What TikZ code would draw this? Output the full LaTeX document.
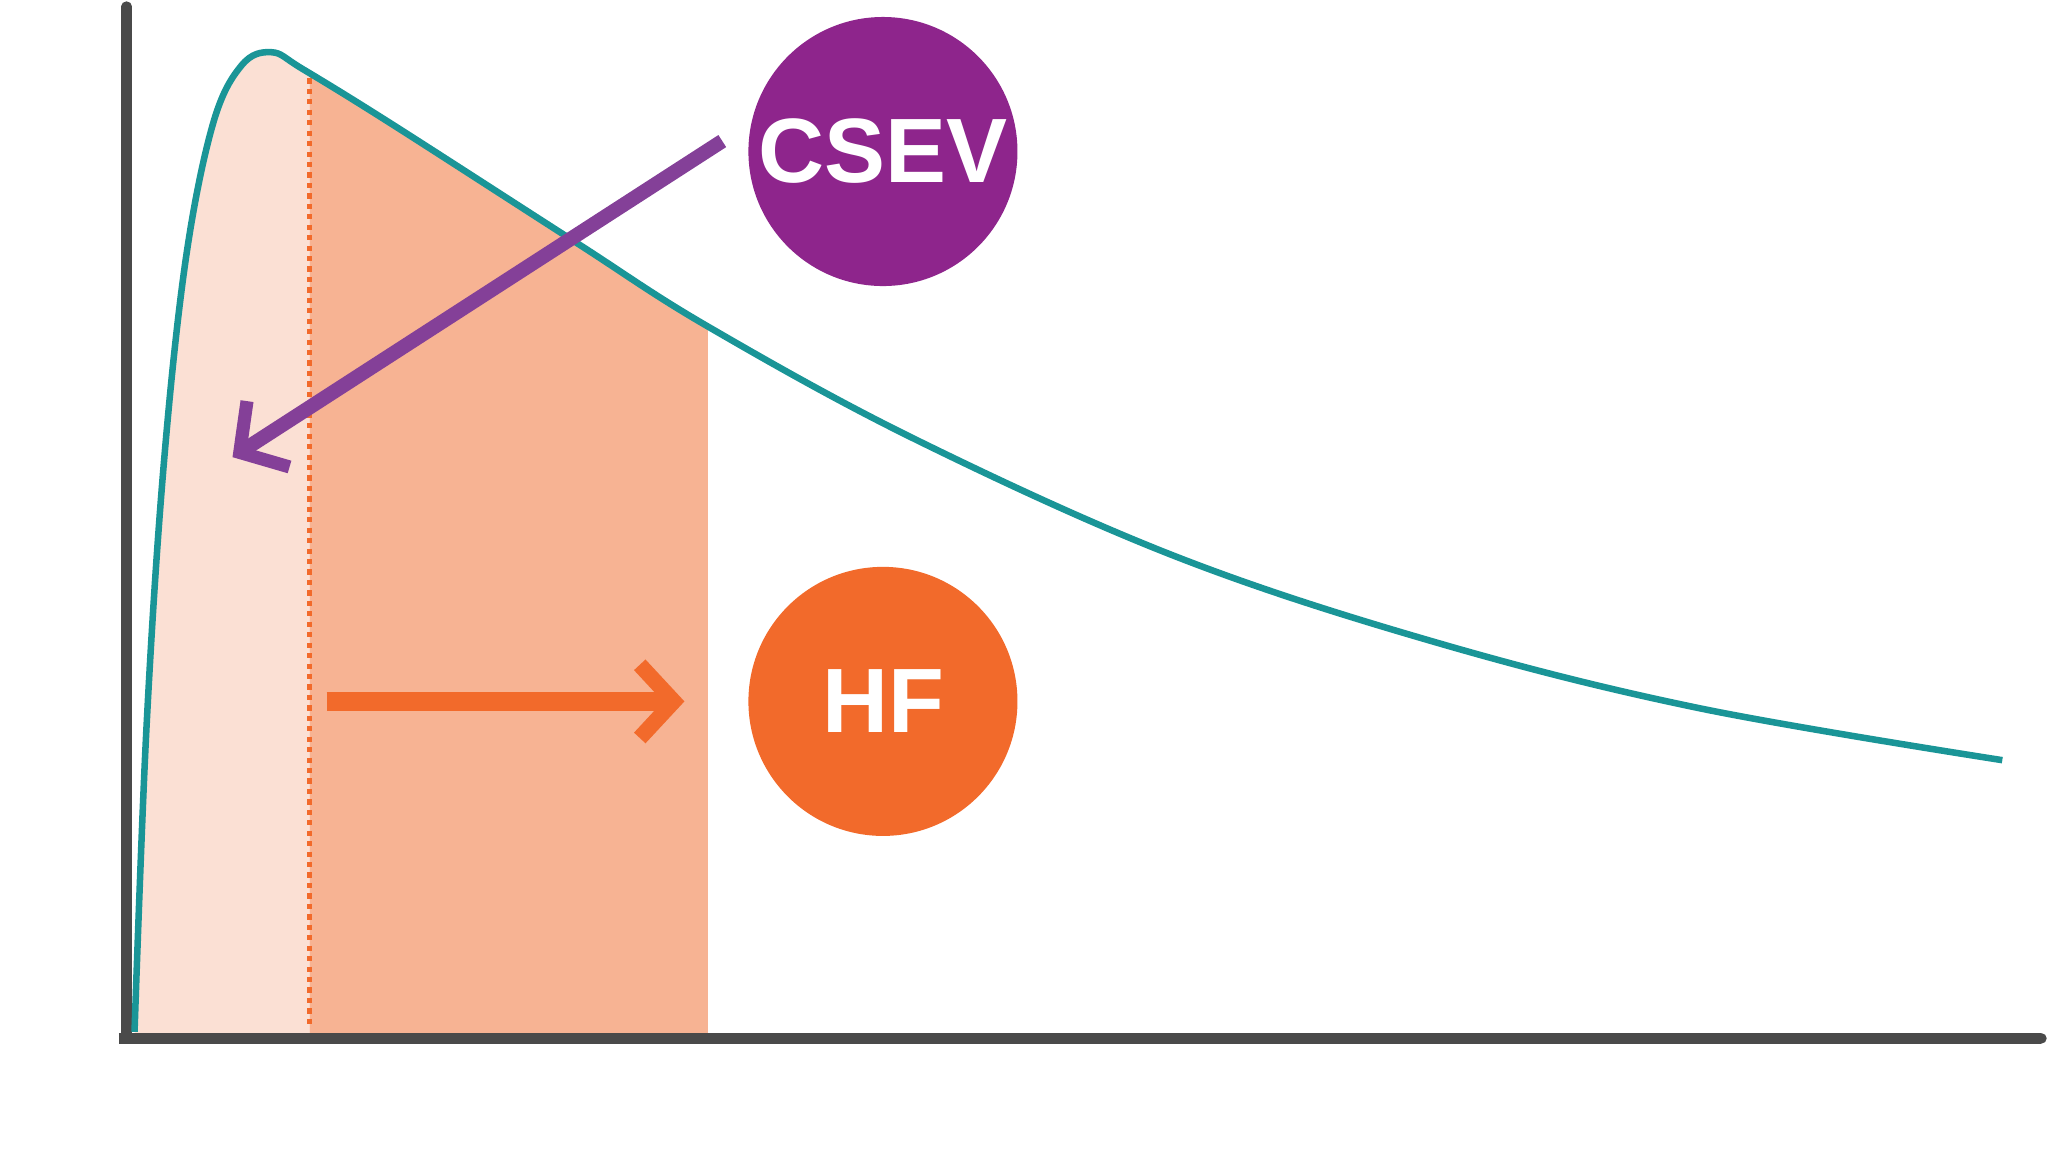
\documentclass[tikz,border=0pt]{standalone}
\usepackage{fontspec}
\setmainfont{Liberation Sans}
\usetikzlibrary{arrows.meta}
\definecolor{axis}{HTML}{4A4A4A}
\definecolor{teal}{HTML}{1A9597}
\definecolor{csev}{HTML}{8E258C}
\definecolor{hf}{HTML}{F26A2B}
\definecolor{lightfill}{HTML}{FBE0D4}
\definecolor{darkfill}{HTML}{F7B393}
\begin{document}
\begin{tikzpicture}[x=1pt,y=-1pt,
  axisline/.style={axis,line width=8pt,line cap=round},
  bubble/.style={circle,minimum size=206pt,inner sep=0pt,text=white,font=\bfseries\fontsize{70}{70}\selectfont},
  curvepts/.style={}]
\useasboundingbox (0,0) rectangle (1568,883);
\def\curve{plot[smooth,tension=0.6] coordinates {(103,790) (112,560) (125,360) (142,200) (163,95) (185,50) (208,40) (232,53) (300,95) (440,185) (542,250) (700,336) (900,426) (1100,492) (1300,542) (1533,582)}}
% fills
\begin{scope}
  \clip (103,0) rectangle (237,795);
  \fill[lightfill] \curve -- (1533,795) -- (103,795) -- cycle;
\end{scope}
\begin{scope}
  \clip (237,0) rectangle (542,795);
  \fill[darkfill] \curve -- (1533,795) -- (103,795) -- cycle;
\end{scope}
\draw[hf,line width=4pt,dash pattern=on 4pt off 4pt] (237,60) -- (237,787);
% axes
\coordinate (ytop) at (97,5);
\coordinate (origin) at (97,795);
\coordinate (xend) at (1563,795);
\draw[axisline] (ytop) -- (origin);
\draw[axis,line width=8pt] (91,795) -- (xend);
\fill[axis] (xend) circle (4pt);
% curve
\draw[teal,line width=5pt] \curve;
% circles
\node[bubble,fill=csev] (csev) at (676,116) {CSEV};
\node[bubble,fill=hf] (hf) at (676,537) {HF};
% arrows
\coordinate (a1s) at (553,108);
\coordinate (a1e) at (178,350);
\shade[left color=csev!90,right color=csev!70!blue!70] (0,0) rectangle (0,0);
\draw[color={rgb,255:red,132;green,64;blue,152},line width=11pt,
  -{Straight Barb[length=26pt,width=60pt,line width=10pt]}] (a1s) -- (a1e);
\coordinate (a2s) at (250,537);
\coordinate (a2e) at (524,537);
\draw[hf,line width=14pt,-{Straight Barb[length=26pt,width=56pt,line width=12pt]}] (a2s) -- (a2e);
\end{tikzpicture}
\end{document}
